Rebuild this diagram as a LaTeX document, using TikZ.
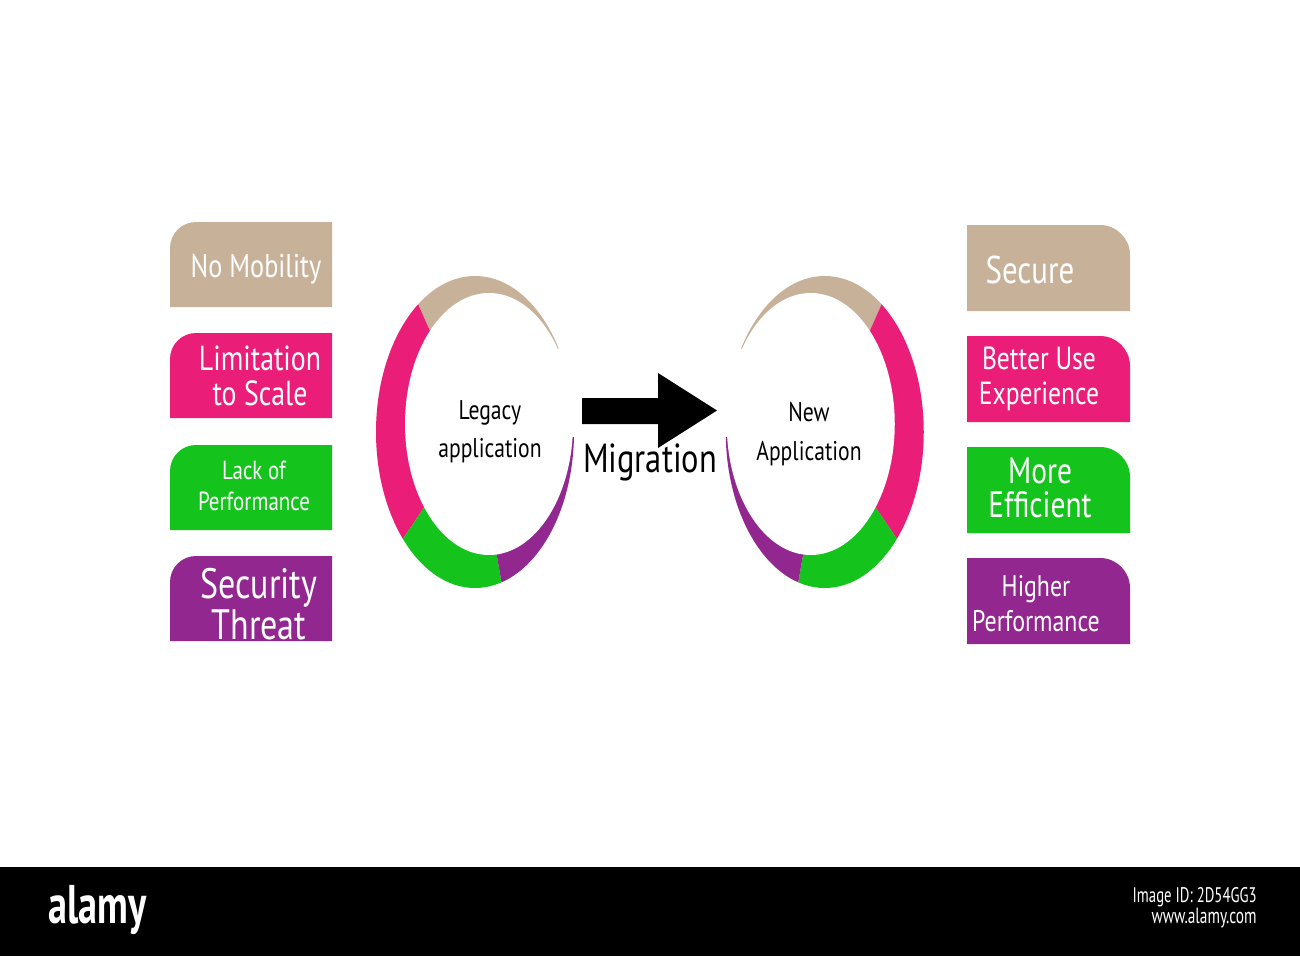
\documentclass[tikz,border=0pt]{standalone}
\usepackage{fontspec}
\setmainfont{PT Sans}
\newfontfamily\cfont{PT Sans}[FakeStretch=0.8]
\newfontfamily\afont{PT Sans}[FakeStretch=0.7]
\usetikzlibrary{calc}
\definecolor{Ctan}{RGB}{199, 178, 153}
\definecolor{Cpink}{RGB}{234, 30, 121}
\definecolor{Cgreen}{RGB}{20, 196, 28}
\definecolor{Cpurple}{RGB}{146, 39, 143}
\tikzset{
    tagtxt/.style={text=white, align=center, inner sep=0pt},
    ringtxt/.style={text=black, align=center, inner sep=0pt},
    bartxt/.style={text=white, inner sep=0pt},
}
% left tag: rounded top-left corner
\newcommand{\ltag}[2]{%
    \fill[#2] (170,#1+85) -- (170,#1+26) arc[start angle=180, end angle=270, radius=26]
        -- (332,#1) -- (332,#1+85) -- cycle;}
% right tag: rounded top-right corner
\newcommand{\rtag}[2]{%
    \fill[#2] (967,#1+86) -- (967,#1) -- (1100,#1) arc[start angle=270, end angle=360, radius=30]
        -- (1130,#1+86) -- cycle;}
\newcommand{\appring}{%
    \begin{scope}
        \clip (475,432) ellipse [x radius=99, y radius=156];
        \fill[Ctan]    (475,432) -- ++(-45:300)  arc[start angle=-45,  end angle=-114, radius=300] -- cycle;
        \fill[Cpink]   (475,432) -- ++(-114:300) arc[start angle=-114, end angle=-236, radius=300] -- cycle;
        \fill[Cgreen]  (475,432) -- ++(-236:300) arc[start angle=-236, end angle=-280, radius=300] -- cycle;
        \fill[Cpurple] (475,432) -- ++(-280:300) arc[start angle=-280, end angle=-357, radius=300] -- cycle;
    \end{scope}
    \fill[white] (489,424) ellipse [x radius=84, y radius=131];}

\begin{document}
\begin{tikzpicture}[x=0.02cm, y=-0.02cm]

    \useasboundingbox (0,0) rectangle (1300,956);
    \fill[white] (0,0) rectangle (1300,956);

    \ltag{222}{Ctan}
    \ltag{333}{Cpink}
    \ltag{445}{Cgreen}
    \ltag{556}{Cpurple}
    \rtag{225}{Ctan}
    \rtag{336}{Cpink}
    \rtag{447}{Cgreen}
    \rtag{558}{Cpurple}

    \node [tagtxt, font=\cfont\fontsize{18.7}{20}\selectfont] (nomob) at (256,269) {No Mobility};
    \node [tagtxt, font=\cfont\fontsize{19.8}{20}\selectfont] (limit) at (260,376) {Limitation\\to Scale};
    \node [tagtxt, font=\cfont\fontsize{14.9}{18}\selectfont] (lackperf) at (254,486) {Lack of\\Performance};
    \node [tagtxt, font=\cfont\fontsize{24.2}{23}\selectfont] (secthreat) at (259,604) {Security\\Threat};

    \node [tagtxt, font=\cfont\fontsize{22}{20}\selectfont] (secure) at (1030,270) {Secure};
    \node [tagtxt, font=\cfont\fontsize{18.2}{19.5}\selectfont] (betteruse) at (1039,379) {Better Use\\Experience};
    \node [tagtxt, font=\cfont\fontsize{20.9}{19.5}\selectfont] (moreeff) at (1040,488) {More\\Efficient};
    \node [tagtxt, font=\cfont\fontsize{17}{20}\selectfont] (higherperf) at (1036,604) {Higher\\Performance};

    \appring
    \begin{scope}[xshift=26cm, xscale=-1]
        \appring
    \end{scope}

    \node [ringtxt, font=\cfont\fontsize{15.4}{21.5}\selectfont] (legacy) at (490,432) {Legacy\\application};
    \node [ringtxt, font=\cfont\fontsize{15.4}{22.5}\selectfont] (newapp) at (809,434) {New\\Application};

    \fill[black] (582,398) -- (658,398) -- (658,373) -- (717,410.5) -- (658,448)
        -- (658,424) -- (582,424) -- cycle;
    \node [ringtxt, font=\cfont\fontsize{23.1}{24}\selectfont] (mig) at (650,462) {Migration};

    \fill[black] (0,867) rectangle (1300,956);
    \node [bartxt, anchor=west, font=\afont\bfseries\fontsize{31}{31}\selectfont] (brand) at (48,910) {alamy};
    \node [bartxt, anchor=east, font=\afont\fontsize{12}{12}\selectfont] (imgid) at (1257,897) {Image ID: 2D54GG3};
    \node [bartxt, anchor=east, font=\afont\fontsize{12.5}{12}\selectfont] (site) at (1257,918) {www.alamy.com};

\end{tikzpicture}
\end{document}
